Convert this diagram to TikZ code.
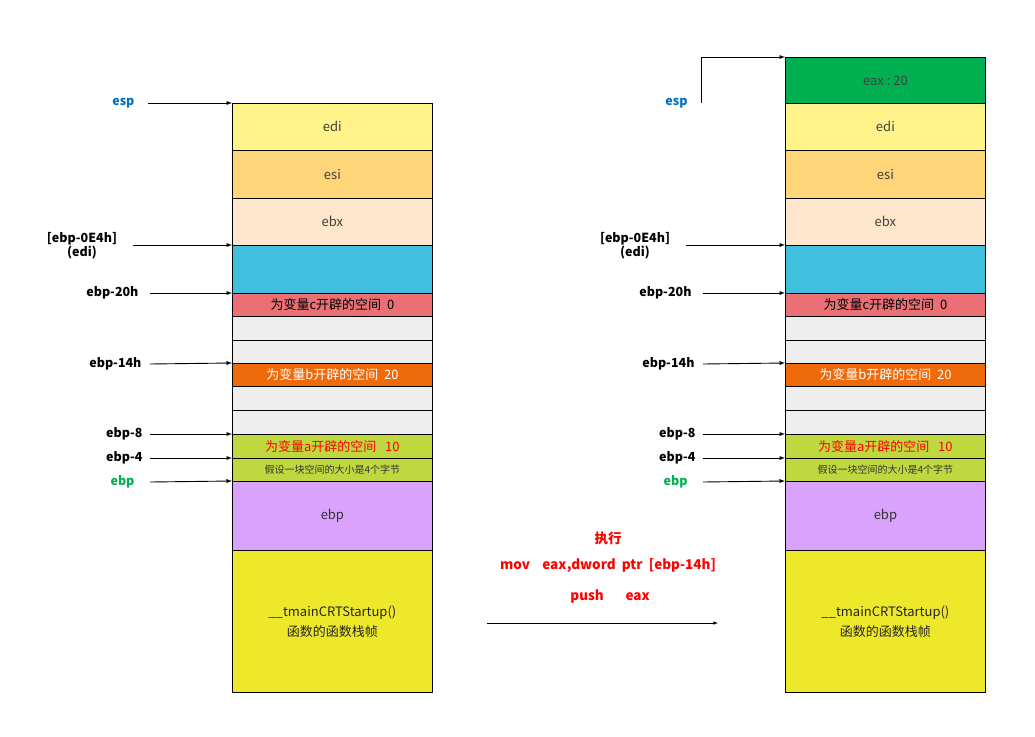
\documentclass[tikz,border=0pt]{standalone}
\usepackage{fontspec}
\setmainfont{Noto Sans CJK SC}
\begin{document}
\begin{tikzpicture}[x=1pt,y=-1pt,
  cell/.style={draw=black,line width=0.8pt,anchor=north west,inner sep=0pt,minimum width=200pt,font=\fontsize{13}{14}\selectfont},
  small/.style={font=\fontsize{10}{11}\selectfont},
  lab/.style={font=\bfseries\fontsize{12.5}{14}\selectfont,anchor=east},
  arr/.style={-latex,line width=0.9pt},
  cmd/.style={text=red,font=\bfseries\fontsize{13.5}{15}\selectfont}]
\definecolor{cEdi}{HTML}{FFF38A}\definecolor{cEsi}{HTML}{FFD57A}
\definecolor{cEbx}{HTML}{FDE6CB}\definecolor{cBlue}{HTML}{40C0DE}
\definecolor{cRed}{HTML}{EB7075}\definecolor{cGray}{HTML}{EEEEEE}
\definecolor{cOr}{HTML}{EE6A0A}\definecolor{cYg}{HTML}{C0D840}
\definecolor{cPur}{HTML}{D9A3FD}\definecolor{cYel}{HTML}{EEE82A}
\definecolor{cGrn}{HTML}{00B050}\definecolor{cEsp}{HTML}{0070C0}
\useasboundingbox (0,0) rectangle (1035,736);
\newcommand\mkrow[7]{\node[cell,fill=#4,text=#6,minimum height=#3-#2,#7] (#1) at (\X,#2) {#5};}
\foreach \X/\P in {232/L,785/R}{
  \mkrow{\P edi}{103}{150}{cEdi}{edi}{black!75}{}
  \mkrow{\P esi}{150}{198}{cEsi}{esi}{black!75}{}
  \mkrow{\P ebx}{198}{245}{cEbx}{ebx}{black!75}{}
  \mkrow{\P blue}{245}{293}{cBlue}{}{black}{}
  \mkrow{\P c}{293}{316}{cRed}{为变量c开辟的空间\ \ 0}{black}{}
  \mkrow{\P g1}{316}{340}{cGray}{}{black}{}
  \mkrow{\P g2}{340}{363}{cGray}{}{black}{}
  \mkrow{\P b}{363}{386}{cOr}{为变量b开辟的空间\ \ 20}{white}{}
  \mkrow{\P g3}{386}{410}{cGray}{}{black}{}
  \mkrow{\P g4}{410}{434}{cGray}{}{black}{}
  \mkrow{\P a}{434}{458}{cYg}{为变量a开辟的空间\ \ \ 10}{red}{}
  \mkrow{\P n}{458}{481}{cYg}{假设一块空间的大小是4个字节}{black!80}{small}
  \mkrow{\P ebp}{481}{550}{cPur}{ebp}{black!80}{}
  \mkrow{\P main}{550}{692}{cYel}{\shortstack{\_\_tmainCRTStartup()\\[3pt]函数的函数栈帧}}{black!85}{}
  \pgfmathsetmacro\O{\X-232}
  \node[lab,text=cEsp] (\P l1) at (\O+138,103) {esp};
  \node[lab,align=center,anchor=center] (\P l2) at (\O+82,246) {[ebp-0E4h]\\(edi)};
  \node[lab] (\P l3) at (\O+142,293) {ebp-20h};
  \node[lab] (\P l4) at (\O+145,364) {ebp-14h};
  \node[lab] (\P l5) at (\O+146,434) {ebp-8};
  \node[lab] (\P l6) at (\O+146,458) {ebp-4};
  \node[lab,text=cGrn] (\P l7) at (\O+138,482) {ebp};
  \draw[arr] (\P l2.east) ++(12,-1) coordinate (\P t2) -- (\P blue.north west);
  \draw[arr] ([xshift=8]\P l3.east) -- (\P c.north west);
  \draw[arr] ([xshift=5]\P l4.east) -- (\P b.north west);
  \draw[arr] ([xshift=4]\P l5.east) -- (\P a.north west);
  \draw[arr] ([xshift=4]\P l6.east) -- (\P n.north west);
  \draw[arr] ([xshift=12]\P l7.east) -- (\P ebp.north west);
}
\node[cell,fill=cGrn,text=black!75,minimum height=46pt] (Reax) at (785,57) {eax\ :\ 20};
\draw[arr] ([xshift=10]Ll1.east) -- (Ledi.north west);
\draw[arr] ([xshift=10]Rl1.east) |- (Reax.north west);
\node[cmd] (c1) at (608,538) {执行};
\node[cmd] (c2) at (608,566) {mov\ \ \ \ eax,dword\ \ ptr\ \ [ebp-14h]};
\node[cmd] (c3) at (610,596) {push\ \ \ \ \ \ \ eax};
\coordinate (s) at (487,623);
\coordinate (e) at (718,623);
\draw[-latex,line width=0.6pt] (s) -- (e);
\end{tikzpicture}
\end{document}
